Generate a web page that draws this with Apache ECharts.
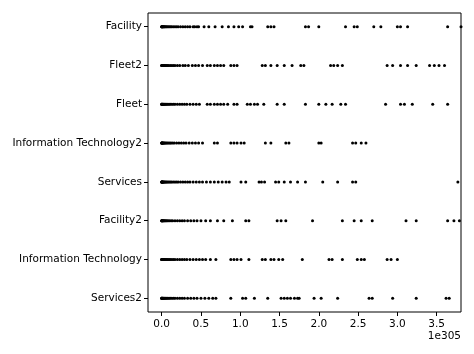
<!DOCTYPE html>
<html>
<head>
<meta charset="utf-8">
<script src="https://cdn.jsdelivr.net/npm/echarts@6/dist/echarts.min.js"></script>
<style>
  html, body { margin: 0; padding: 0; background: #fff; }
  #chart { width: 474px; height: 354px; }
</style>
</head>
<body>
<div id="chart"></div>
<script>
// categories, top to bottom as shown
var categories = ["Facility", "Fleet2", "Fleet", "Information Technology2", "Services", "Facility2", "Information Technology", "Services2"];

// values in units of 1e305 (axis offset text shows the exponent)
var facility = [0, 0.001, 0.003, 0.006, 0.01, 0.014, 0.02, 0.026, 0.033, 0.04, 0.05, 0.06, 0.072, 0.085, 0.1, 0.115, 0.13, 0.15, 0.17, 0.19, 0.21, 0.24, 0.27, 0.3, 0.33, 0.36, 0.4, 0.42, 0.45, 0.47,
  0.54, 0.6, 0.68, 0.77, 0.85, 0.92, 0.98, 1.03, 1.13, 1.15, 1.35, 1.39, 1.43, 1.83, 1.87, 2.0, 2.34, 2.45, 2.49, 2.7, 2.79, 3.0, 3.04, 3.13, 3.64, 3.81];
var fleet2 = [0, 0.002, 0.004, 0.008, 0.012, 0.018, 0.025, 0.032, 0.04, 0.05, 0.062, 0.075, 0.09, 0.11, 0.13, 0.15, 0.17, 0.2, 0.23, 0.27, 0.3, 0.34, 0.39,
  0.43, 0.47, 0.52, 0.58, 0.62, 0.67, 0.71, 0.75, 0.79, 0.88, 0.92, 0.96, 1.28, 1.32, 1.39, 1.47, 1.56, 1.66, 1.77, 1.81, 2.15, 2.19, 2.24, 2.3, 2.87, 2.94, 3.04, 3.13, 3.24, 3.41, 3.47, 3.53, 3.6];
var fleet = [0, 0.001, 0.003, 0.006, 0.01, 0.015, 0.021, 0.028, 0.036, 0.045, 0.055, 0.067, 0.08, 0.095, 0.11, 0.13, 0.15, 0.17, 0.2, 0.23, 0.26, 0.29, 0.32, 0.36, 0.4, 0.44, 0.48,
  0.58, 0.62, 0.67, 0.71, 0.75, 0.79, 0.84, 0.92, 0.96, 1.09, 1.13, 1.18, 1.22, 1.3, 1.47, 1.56, 1.83, 2.0, 2.09, 2.17, 2.28, 2.34, 2.85, 3.04, 3.09, 3.19, 3.45, 3.64];
var infoTech2 = [0, 0.001, 0.003, 0.005, 0.009, 0.013, 0.018, 0.024, 0.031, 0.04, 0.05, 0.062, 0.075, 0.09, 0.105, 0.12, 0.14, 0.16, 0.19, 0.22, 0.25, 0.28, 0.31, 0.35, 0.39, 0.43, 0.47, 0.52,
  0.67, 0.71, 0.88, 0.92, 0.96, 1.01, 1.05, 1.32, 1.39, 1.58, 1.62, 2.0, 2.03, 2.43, 2.47, 2.54, 2.6];
var services = [0, 0.001, 0.002, 0.004, 0.007, 0.01, 0.014, 0.019, 0.025, 0.032, 0.04, 0.05, 0.06, 0.072, 0.085, 0.1, 0.115, 0.13, 0.15, 0.17, 0.19, 0.21, 0.24, 0.27, 0.3, 0.33, 0.36, 0.4, 0.44, 0.48, 0.52, 0.57, 0.62, 0.67, 0.72, 0.77, 0.82, 0.86,
  1.01, 1.07, 1.24, 1.27, 1.31, 1.45, 1.49, 1.56, 1.64, 1.73, 1.83, 2.05, 2.24, 2.43, 2.47, 3.77];
var facility2 = [0, 0.001, 0.003, 0.006, 0.01, 0.015, 0.021, 0.028, 0.036, 0.045, 0.056, 0.068, 0.082, 0.1, 0.12, 0.14, 0.17, 0.2, 0.23, 0.26, 0.29, 0.33,
  0.37, 0.41, 0.45, 0.5, 0.56, 0.62, 0.71, 0.79, 0.9, 1.07, 1.11, 1.47, 1.52, 1.58, 1.92, 2.3, 2.45, 2.54, 2.68, 3.11, 3.24, 3.64, 3.72, 3.79];
var infoTech = [0, 0.001, 0.003, 0.006, 0.01, 0.014, 0.02, 0.027, 0.035, 0.044, 0.055, 0.067, 0.08, 0.095, 0.11, 0.13, 0.15, 0.17, 0.2, 0.23, 0.26, 0.29, 0.32, 0.36, 0.4, 0.44, 0.48, 0.52, 0.56,
  0.62, 0.69, 0.88, 0.92, 0.96, 1.01, 1.11, 1.28, 1.32, 1.39, 1.43, 1.49, 1.54, 1.79, 2.13, 2.17, 2.3, 2.49, 2.54, 2.58, 2.87, 2.92, 3.0];
var services2 = [0, 0.001, 0.002, 0.004, 0.007, 0.011, 0.016, 0.022, 0.029, 0.037, 0.046, 0.056, 0.068, 0.08, 0.095, 0.11, 0.13, 0.15, 0.17, 0.2, 0.23, 0.26, 0.29, 0.33, 0.37, 0.41, 0.45, 0.5, 0.55, 0.6, 0.65, 0.69,
  0.88, 1.03, 1.07, 1.18, 1.35, 1.52, 1.56, 1.6, 1.64, 1.69, 1.73, 1.75, 1.94, 2.03, 2.24, 2.64, 2.68, 2.94, 3.24, 3.62, 3.66];

var rows = [facility, fleet2, fleet, infoTech2, services, facility2, infoTech, services2];
var xTicks = [0, 0.5, 1, 1.5, 2, 2.5, 3, 3.5];
var yTicks = [0, 1, 2, 3, 4, 5, 6, 7];

var myChart = echarts.init(document.getElementById("chart"), null, { renderer: "canvas" });

// build [x, y] points; category at top gets the highest y index
var points = [];
rows.forEach(function (vals, i) {
  vals.forEach(function (v) {
    points.push([v, categories.length - 1 - i]);
  });
});

var option = {
  animation: false,
  textStyle: { fontFamily: "DejaVu Sans" },
  grid: {
    left: 148, right: 13, top: 13, bottom: 42,
    show: true, borderColor: "#000", borderWidth: 1
  },
  xAxis: {
    type: "value",
    min: -0.174,
    max: 3.81,
    axisLine: { show: false, onZero: false },
    splitLine: { show: false },
    axisTick: { show: true, inside: false, length: 4, lineStyle: { color: "#000" }, customValues: xTicks },
    axisLabel: {
      color: "#000", fontSize: 10.5, margin: 7, customValues: xTicks,
      formatter: function (v) { return v.toFixed(1); }
    }
  },
  yAxis: {
    type: "value",
    min: -0.354,
    max: 7.354,
    axisLine: { show: false, onZero: false },
    splitLine: { show: false },
    axisTick: { show: true, inside: false, length: 4, lineStyle: { color: "#000" }, customValues: yTicks },
    axisLabel: {
      color: "#000", fontSize: 10.5, margin: 6, customValues: yTicks,
      formatter: function (v) { return categories[categories.length - 1 - Math.round(v)]; }
    }
  },
  graphic: [{
    type: "text",
    right: 13,
    top: 331,
    style: { text: "1e305", fill: "#000", font: "10.5px DejaVu Sans", textAlign: "right" }
  }],
  series: [{
    type: "scatter",
    data: points,
    symbol: "circle",
    symbolSize: 3,
    itemStyle: { color: "#000", opacity: 1 },
    silent: true
  }]
};

myChart.setOption(option);
</script>
</body>
</html>
